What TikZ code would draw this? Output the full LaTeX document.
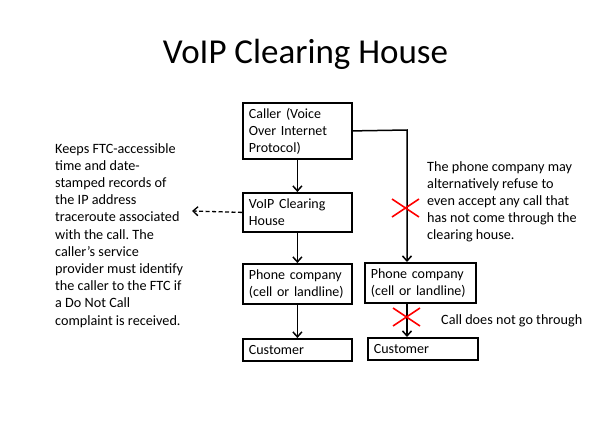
\documentclass[tikz,border=0pt]{standalone}
\usepackage{fontspec}
\setmainfont{Carlito}
\usetikzlibrary{arrows.meta}
\frenchspacing

\begin{document}
\begin{tikzpicture}[x=1pt, y=-1pt,
    box/.style={draw, line width=1.8pt, anchor=north west, align=left, inner xsep=6pt,
      inner ysep=0pt, font=\fontsize{14}{17}\selectfont},
    link/.style={-{Straight Barb[length=5pt,width=9pt]}, line width=1.5pt},
    note/.style={align=left, anchor=north west, inner sep=0pt, font=\fontsize{14.2}{17.2}\selectfont},
    cross/.style={red, line width=1.6pt}]
  \useasboundingbox (0,0) rectangle (615,424);
  \node[anchor=base, font=\fontsize{35}{40}\selectfont] (title) at (305.5,63) {VoIP Clearing House};

  \node[box, text width=97pt, minimum height=56pt] (caller) at (242,102) {Caller (Voice\\Over Internet\\Protocol)};
  \node[box, text width=97pt, minimum height=39pt] (house) at (242,192) {VoIP Clearing\\House};
  \node[box, text width=97pt, minimum height=40pt] (phoneA) at (242,263) {Phone company\\(cell or landline)};
  \node[box, text width=97pt, minimum height=22pt] (custA) at (242,338) {Customer};
  \node[box, text width=99pt, minimum height=40pt] (phoneB) at (364,262) {Phone company\\(cell or landline)};
  \node[box, text width=98pt, minimum height=22pt] (custB) at (367,337) {Customer};

  \coordinate (bend) at (407,130);
  \coordinate (keep) at (192,211);

  \draw[link] (caller) -- (house);
  \draw[link] (house) -- (house |- phoneA.north);
  \draw[link] (phoneA) -- (phoneA |- custA.north);
  \draw[link] (caller.east) -- (bend) -- (bend |- phoneB.north);
  \draw[link] (bend |- phoneB.south) -- (bend |- custB.north);
  \draw[link, dash pattern=on 4pt off 2.5pt, line width=1.3pt] (house.west) -- (keep);

  \draw[cross] (392,199) -- (419,217) (392,217) -- (419,199);
  \draw[cross] (393,308) -- (420,326) (393,326) -- (420,308);

  \node[note] (keepnote) at (55,143) {Keeps FTC-accessible\\time and date-\\stamped records of\\the IP address\\traceroute associated\\with the call. The\\caller's service\\provider must identify\\the caller to the FTC if\\a Do Not Call\\complaint is received.};
  \node[note] (refuse) at (427,161) {The phone company may\\alternatively refuse to\\even accept any call that\\has not come through the\\clearing house.};
  \node[note, anchor=west] (fail) at (441,321) {Call does not go through};
\end{tikzpicture}
\end{document}
